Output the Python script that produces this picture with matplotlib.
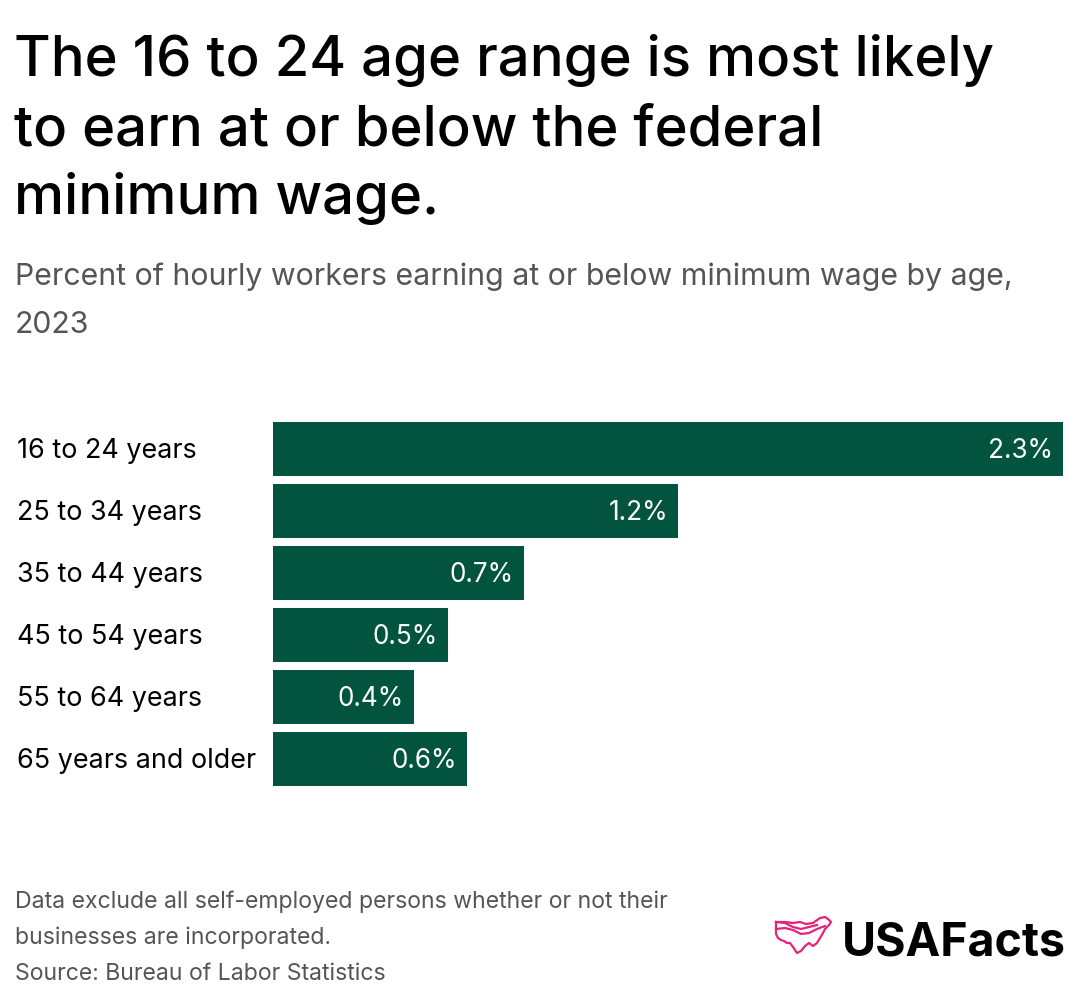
import matplotlib
matplotlib.use("Agg")
import matplotlib.pyplot as plt
import matplotlib.transforms as mtransforms

# ================== DATA ==================

categories = ["16 to 24 years", "25 to 34 years", "35 to 44 years",
              "45 to 54 years", "55 to 64 years", "65 years and older"]
values = [2.3, 1.18, 0.73, 0.51, 0.41, 0.565]
value_labels = ["2.3%", "1.2%", "0.7%", "0.5%", "0.4%", "0.6%"]

title_lines = ["The 16 to 24 age range is most likely",
               "to earn at or below the federal",
               "minimum wage."]
subtitle_lines = ["Percent of hourly workers earning at or below minimum wage by age,",
                  "2023"]
footer_lines = ["Data exclude all self-employed persons whether or not their",
                "businesses are incorporated.",
                "Source: Bureau of Labor Statistics"]

BAR_COLOR = "#03543F"
W, H = 1080, 1006

plt.rcParams["font.family"] = ["Inter", "DejaVu Sans"]

fig = plt.figure(figsize=(W / 100, H / 100), dpi=100)
fig.patch.set_facecolor("white")


def fx(px):
    return px / W


def fy(py):
    return 1 - py / H


# ================== TITLE ==================

for i, line in enumerate(title_lines):
    fig.text(fx(14), fy(76 + i * 69), line, fontsize=40.5, fontweight="medium",
             color="black", ha="left", va="baseline")

for i, line in enumerate(subtitle_lines):
    fig.text(fx(15), fy(285 + i * 48), line, fontsize=21.8, color="#555555",
             ha="left", va="baseline")

# ================== BARS ==================

ax = fig.add_axes([fx(273), fy(790), fx(1063) - fx(273), (790 - 418) / H])
ypos = list(range(len(categories)))
ax.barh(ypos, values, height=0.855, color=BAR_COLOR)
ax.set_xlim(0, max(values))
ax.set_ylim(len(categories) - 0.5, -0.5)
ax.axis("off")

trans = mtransforms.blended_transform_factory(fig.transFigure, ax.transData)
for y, cat in zip(ypos, categories):
    ax.text(fx(17), y + 0.03, cat, transform=trans, fontsize=19.4, color="black",
            ha="left", va="center")

offset = mtransforms.offset_copy(ax.transData, fig=fig, x=-10, y=0, units="dots")
for y, v, lab in zip(ypos, values, value_labels):
    ax.text(v, y + 0.03, lab, transform=offset, fontsize=18.8, color="white",
            ha="right", va="center")

# ================== FOOTER ==================

for i, line in enumerate(footer_lines):
    fig.text(fx(15), fy(908 + i * 36), line, fontsize=16.6, color="#555555",
             ha="left", va="baseline")

# logo
fig.text(fx(1066), fy(955), "USAFacts", fontsize=33.5, fontweight="bold",
         color="black", ha="right", va="baseline")

lax = fig.add_axes([fx(773), fy(956), fx(60), 42 / H])
lax.set_xlim(0, 60)
lax.set_ylim(0, 42)
lax.axis("off")
pink = "#E6227A"
outline_x = [3, 12, 20, 27, 33, 40, 47, 52, 55, 58, 56, 52, 50, 47, 44, 40, 36, 32,
             28, 24, 20, 17, 14, 11, 8, 5, 3, 3]
outline_y = [34, 34, 33, 34, 32, 33, 38, 39, 37, 34, 31, 27, 23, 18, 13, 10, 13, 10,
             5, 3, 9, 13, 13, 15, 16, 18, 22, 34]
lax.plot(outline_x, outline_y, color=pink, lw=1.6, solid_joinstyle="round")
lax.plot([3, 12, 20, 28, 36, 44, 52], [27, 28, 26, 22, 23, 27, 30], color=pink, lw=1.6)
lax.plot([3, 12, 20, 28, 36, 44], [34, 33, 29, 27, 29, 31], color=pink, lw=1.6)

fig.savefig("out.png", dpi=100, facecolor="white")
